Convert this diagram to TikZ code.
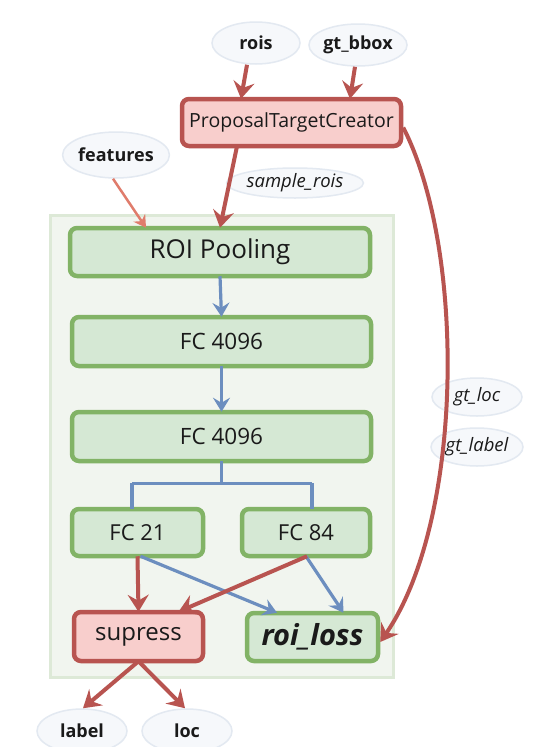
\documentclass[tikz,border=0pt]{standalone}
\usepackage{fontspec}
\setmainfont{Open Sans}
\usetikzlibrary{arrows.meta,shapes.geometric,calc}
\definecolor{rstroke}{HTML}{B85450}
\definecolor{rfill}{HTML}{F8CECC}
\definecolor{gstroke}{HTML}{82B366}
\definecolor{gfill}{HTML}{D5E8D4}
\definecolor{barr}{HTML}{6C8EBF}
\definecolor{farr}{HTML}{E07C6C}
\definecolor{efill}{HTML}{F6F8FB}
\definecolor{ebord}{HTML}{E3E9F1}
\definecolor{cfill}{HTML}{F1F5EF}
\definecolor{cbord}{HTML}{DDE9D7}
\definecolor{txt}{HTML}{1A1A1A}
\tikzset{
  redbox/.style={draw=rstroke, fill=rfill, line width=4.5pt, rounded corners=7pt, inner sep=0pt, text=txt},
  greenbox/.style={draw=gstroke, fill=gfill, line width=4.5pt, rounded corners=7pt, inner sep=0pt, text=txt},
  lab/.style={ellipse, draw=ebord, fill=efill, line width=1.5pt, inner sep=0pt, text=txt},
  rarrow/.style={draw=rstroke, line width=4pt, -{Stealth[length=17pt,width=21pt,inset=6pt]}},
  farrow/.style={draw=farr, line width=2.5pt, -{Stealth[length=12pt,width=14pt,inset=4pt]}},
  barrow/.style={draw=barr, line width=3.2pt, -{Stealth[length=14pt,width=17pt,inset=5pt]}},
  bline/.style={draw=barr, line width=3.2pt},
}
\begin{document}
\begin{tikzpicture}[x=1pt,y=-1pt]
\useasboundingbox (0,0) rectangle (540,747);
\fill[white] (0,0) rectangle (540,747);
% container
\draw[cbord, fill=cfill, line width=3pt] (50,215) rectangle (393,677);
% inputs
\node[lab, minimum width=88pt, minimum height=42pt, font=\bfseries\fontsize{18}{20}\selectfont] (rois) at (256,43) {rois};
\node[lab, minimum width=92pt, minimum height=42pt, font=\bfseries\fontsize{18}{20}\selectfont] (gtbbox) at (358,45) {gt\_bbox};
\node[redbox, minimum width=219pt, minimum height=47pt, font=\fontsize{19.5}{22}\selectfont] (ptc) at (291.5,122.5) {ProposalTargetCreator};
\node[lab, minimum width=92pt, minimum height=46pt, font=\bfseries\fontsize{18}{20}\selectfont] (features) at (116,155) {features};
\node[lab, minimum width=116pt, minimum height=30pt, font=\itshape\fontsize{18.5}{20}\selectfont] (samplerois) at (295,183) {sample\_rois};
% network
\node[greenbox, minimum width=300pt, minimum height=48pt, font=\fontsize{26}{28}\selectfont] (roi) at (220,252) {ROI Pooling};
\node[greenbox, minimum width=299pt, minimum height=49pt, font=\fontsize{22.5}{24}\selectfont] (fca) at (221.5,341.5) {FC 4096};
\node[greenbox, minimum width=299pt, minimum height=49pt, font=\fontsize{22.5}{24}\selectfont] (fcb) at (221.5,436.5) {FC 4096};
\node[greenbox, minimum width=131pt, minimum height=47pt, font=\fontsize{22}{24}\selectfont] (fc21) at (137.5,532.5) {FC 21};
\node[greenbox, minimum width=128pt, minimum height=47pt, font=\fontsize{22}{24}\selectfont] (fc84) at (306,532.5) {FC 84};
\node[redbox, minimum width=129pt, minimum height=49pt, font=\fontsize{24}{26}\selectfont] (supress) at (138.5,636.5) {supress};
\node[greenbox, minimum width=131pt, minimum height=48pt, font=\bfseries\itshape\fontsize{29}{30}\selectfont] (roiloss) at (312.5,637) {roi\_loss};
% outputs
\node[lab, minimum width=90pt, minimum height=44pt, font=\bfseries\fontsize{18}{20}\selectfont] (label) at (82,731) {label};
\node[lab, minimum width=90pt, minimum height=44pt, font=\bfseries\fontsize{18}{20}\selectfont] (loc) at (187,731) {loc};
% edge labels
\node[lab, minimum width=90pt, minimum height=38pt, font=\itshape\fontsize{18.5}{20}\selectfont] (gtloc) at (477,397) {gt\_loc};
\node[lab, minimum width=92pt, minimum height=38pt, font=\itshape\fontsize{18.5}{20}\selectfont] (gtlabel) at (477,447) {gt\_label};
% curve to roi_loss
\draw[rarrow] ([yshift=-5pt]ptc.east) .. controls (466,250) and (464,520) .. ([yshift=-5pt]roiloss.east);
\draw[rarrow] ([xshift=-9pt]rois.south) -- ([xshift=-50.5pt,yshift=-2pt]ptc.north);
\draw[rarrow] ([xshift=-3pt]gtbbox.south) -- ([xshift=58.5pt,yshift=-2pt]ptc.north);
\draw[rarrow] ([xshift=-54.5pt,yshift=2pt]ptc.south) -- ([yshift=-2pt]roi.north);
\draw[farrow] ([xshift=-3pt]features.south) -- ([xshift=-74pt,yshift=-2pt]roi.north);
\draw[barrow] ([yshift=2pt]roi.south) -- ([yshift=-2pt]fca.north);
\draw[barrow] ([yshift=2pt]fca.south) -- ([yshift=-2pt]fcb.north);
\draw[bline] ([yshift=2pt]fcb.south) -- ++(0,22) coordinate (br);
\draw[bline] ([xshift=-5.5pt]fc21.north |- br) -- ([xshift=6pt]fc84.north |- br);
\draw[bline] ([xshift=-5.5pt]fc21.north |- br) -- ([xshift=-5.5pt,yshift=-2pt]fc21.north);
\draw[bline] ([xshift=6pt]fc84.north |- br) -- ([xshift=6pt,yshift=-2pt]fc84.north);
\draw[barrow] ([xshift=3pt,yshift=2pt]fc21.south) -- ([xshift=-35.5pt,yshift=-2pt]roiloss.north);
\draw[barrow] ([yshift=2pt]fc84.south) -- ([xshift=31pt,yshift=-2pt]roiloss.north);
\draw[rarrow] ([yshift=2pt]fc21.south) -- ([yshift=-2pt]supress.north);
\draw[rarrow] ([xshift=1pt,yshift=2pt]fc84.south) -- ([xshift=40pt,yshift=-2pt]supress.north);
\draw[rarrow] ([yshift=2pt]supress.south) -- ([xshift=1pt]label.north);
\draw[rarrow] ([yshift=2pt]supress.south) -- ([xshift=-2pt]loc.north);
\end{tikzpicture}
\end{document}
